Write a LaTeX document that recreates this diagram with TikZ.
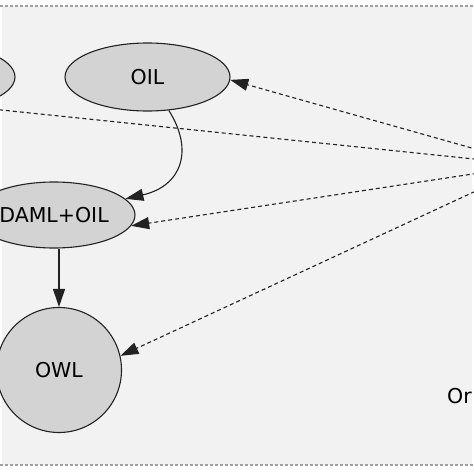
\documentclass[tikz,border=0pt]{standalone}
\usepackage{fontspec}
\setmainfont{DejaVu Sans}
\usetikzlibrary{shapes.geometric,arrows.meta}
\definecolor{bgc}{HTML}{F2F2F2}
\definecolor{nodec}{HTML}{D3D3D3}
\definecolor{linec}{HTML}{222222}
\definecolor{framec}{HTML}{A0A0A0}
\tikzset{
  ell/.style={ellipse,draw=linec,fill=nodec,line width=1.1pt,inner sep=0pt,font=\fontsize{20.5}{24}\selectfont},
  circ/.style={circle,draw=linec,fill=nodec,line width=1.1pt,inner sep=0pt,font=\fontsize{20.5}{24}\selectfont},
  solidarrow/.style={draw=linec,line width=1.1pt,-{Triangle[length=18pt,width=12pt]}},
  dasharrow/.style={draw=linec,line width=1.1pt,dash pattern=on 4pt off 3pt,-{Triangle[length=18pt,width=12pt]}},
  frameline/.style={draw=framec,line width=1.4pt,dash pattern=on 3pt off 2pt},
  lbl/.style={inner sep=0pt,font=\fontsize{20.5}{24}\selectfont}
}
\begin{document}
\begin{tikzpicture}[x=1pt,y=-1pt]
\useasboundingbox (0,0) rectangle (474,474);
\fill[white] (0,0) rectangle (474,474);
\fill[bgc] (2,6) rectangle (472,465);
\draw[frameline] (0,6) -- (474,6);
\draw[frameline] (0,465) -- (474,465);
% nodes
\node[ell,minimum width=176pt,minimum height=68pt] (left) at (-73,77) {};
\node[ell,minimum width=165pt,minimum height=68pt] (oil) at (147.5,77) {OIL};
\node[ell,minimum width=162pt,minimum height=66pt] (daml) at (54,215) {DAML+OIL};
\node[circ,minimum size=125pt] (owl) at (59,370) {OWL};
\node[lbl,anchor=base west] (or) at (447,403) {Or};
\coordinate (src) at (532,165);
\coordinate (farleft) at (-100,99.5);
% edges
\draw[solidarrow] (oil) .. controls (194,150) and (182,186) .. (daml);
\draw[solidarrow] (daml.south -| owl.north) -- (owl.north);
\draw[dasharrow] (src) -- (oil.-2);
\draw[dasharrow] (src) -- (farleft);
\draw[dasharrow] (src) -- (daml.-8);
\draw[dasharrow] (src) -- (owl.13);
\end{tikzpicture}
\end{document}
